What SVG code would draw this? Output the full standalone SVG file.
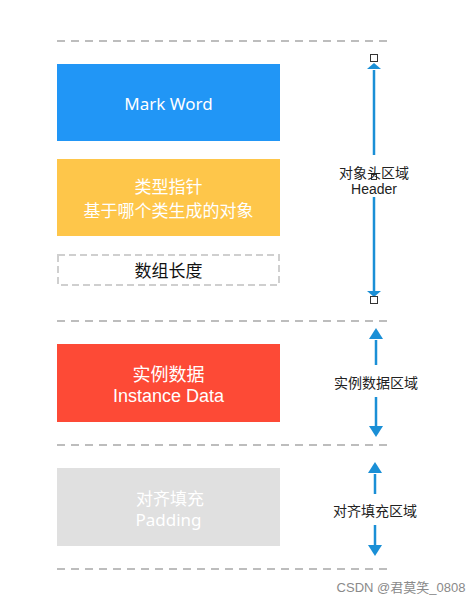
<svg xmlns="http://www.w3.org/2000/svg" width="474" height="601" viewBox="0 0 474 601">
<style>
.sep{stroke:#a8a8a8;stroke-width:1.5;stroke-dasharray:8,6;fill:none}
.box{stroke:none}
.wt{font-family:"Noto Sans","Noto Sans CJK SC",sans-serif;font-size:17px;fill:#ffffff;text-anchor:middle}
.ws{font-family:"Liberation Sans","Noto Sans CJK SC",sans-serif;font-size:18px;fill:#ffffff;text-anchor:middle}
.lbl{font-family:"Liberation Sans","Noto Sans CJK SC",sans-serif;font-size:14px;fill:#222;text-anchor:middle}
.arr{stroke:#1a8fd6;stroke-width:2.5;fill:none}
.hd{fill:#1a8fd6}
.hnd{fill:#fff;stroke:#333;stroke-width:1}
</style>
<rect width="474" height="601" fill="#ffffff"/>
<g id="separators">
<line class="sep" x1="57" y1="41" x2="392" y2="41"/>
<line class="sep" x1="57" y1="321" x2="392" y2="321"/>
<line class="sep" x1="57" y1="445" x2="392" y2="445"/>
<line class="sep" x1="57" y1="569" x2="392" y2="569"/>
</g>
<g id="markword">
<rect class="box" x="57" y="64" width="223" height="77" fill="#2196f6"/>
<text class="wt" x="168.5" y="110">Mark Word</text>
</g>
<g id="klass">
<rect class="box" x="57" y="159" width="223" height="77" fill="#fec64a"/>
<text class="wt" x="168.5" y="193">类型指针</text>
<text class="wt" x="168.5" y="217">基于哪个类生成的对象</text>
</g>
<g id="arraylen">
<rect x="58" y="255" width="221" height="30" fill="none" stroke="#cfcfcf" stroke-width="2" stroke-dasharray="7,4"/>
<text x="168.5" y="277" font-family="Noto Sans CJK SC,sans-serif" font-size="17" fill="#111" text-anchor="middle">数组长度</text>
</g>
<g id="instance">
<rect class="box" x="57" y="344" width="223" height="78" fill="#fd4a36"/>
<text class="ws" x="168.5" y="381">实例数据</text>
<text class="ws" x="168.5" y="402">Instance Data</text>
</g>
<g id="padding">
<rect class="box" x="57" y="468" width="223" height="78" fill="#e0e0e0"/>
<text class="wt" x="170" y="505">对齐填充</text>
<text class="wt" x="168.5" y="526">Padding</text>
</g>
<g id="connectors">
<line class="arr" x1="374" y1="70" x2="374" y2="155"/>
<polygon class="hd" points="374,63 367,69 381,69"/>
<line class="arr" x1="374" y1="197" x2="374" y2="291"/>
<polygon class="hd" points="374,297 367,291 381,291"/>
<rect class="hnd" x="370.5" y="54.5" width="7" height="7"/>
<rect class="hnd" x="370.5" y="296.5" width="7" height="7"/>
<rect class="hnd" x="371.5" y="174.5" width="5" height="5" stroke="#a07020"/>
<line class="arr" x1="376" y1="340" x2="376" y2="365"/>
<polygon class="hd" points="376,328 369,339 383,339"/>
<line class="arr" x1="376" y1="397" x2="376" y2="426"/>
<polygon class="hd" points="376,437 369,426 383,426"/>
<line class="arr" x1="375" y1="474" x2="375" y2="494"/>
<polygon class="hd" points="375,462 368,473 382,473"/>
<line class="arr" x1="375" y1="525" x2="375" y2="545"/>
<polygon class="hd" points="375,556 368,545 382,545"/>
</g>
<g id="labels">
<text class="lbl" x="374" y="178">对象头区域</text>
<text class="lbl" x="374" y="194">Header</text>
<text class="lbl" x="376" y="388">实例数据区域</text>
<text class="lbl" x="375" y="516">对齐填充区域</text>
<text x="401" y="592" font-family="Liberation Sans,Noto Sans CJK SC,sans-serif" font-size="13" fill="#8a8a8a" text-anchor="middle">CSDN @君莫笑_0808</text>
</g>
</svg>
